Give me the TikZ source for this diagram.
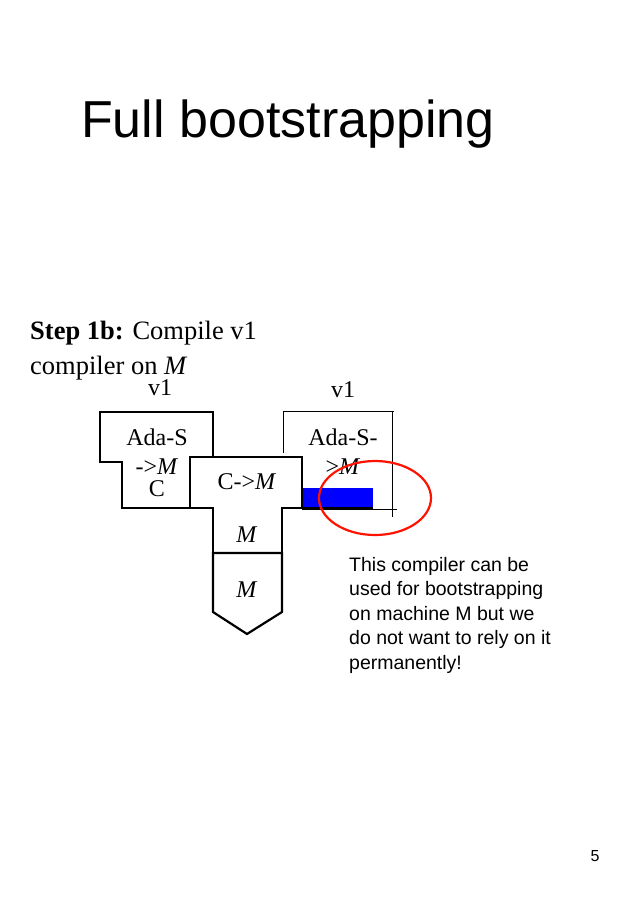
\documentclass[tikz,border=0pt]{standalone}
\usepackage{fontspec}
\setmainfont{Liberation Serif}
\newfontfamily\sans{Liberation Sans}
\begin{document}
\begin{tikzpicture}[x=1pt,y=-1pt,
  tee/.style={draw=black,line width=2.2pt,fill=white,line join=miter},
  lbl/.style={inner sep=0pt,font=\fontsize{24}{26}\selectfont},
  thin/.style={draw=black,line width=0.6pt}]
\useasboundingbox (0,0) rectangle (638,922);
\node[anchor=base west,inner sep=0pt,font=\sans\fontsize{52}{56}\selectfont] (title) at (81,137) {Full bootstrapping};
\node[anchor=base west,inner sep=0pt,align=left,font=\fontsize{26.5}{35}\selectfont] (step) at (30,374) {\textbf{Step 1b:} Compile v1\\compiler on \textit{M}};
% left T
\draw[tee] (100,412) -- (213,412) -- (213,462) -- (190,462) -- (190,508) -- (122,508) -- (122,462) -- (100,462) -- cycle;
% right thin T
\draw[thin] (283,453) -- (283,411) -- (394,411);
\draw[thin] (392,411) -- (392,517);
\fill[blue] (302,488) rectangle (373,508);
\draw[thin] (302,509) -- (397,509);
% middle T
\draw[tee] (190,457) -- (302,457) -- (302,508) -- (282,508) -- (282,553) -- (213,553) -- (213,508) -- (190,508) -- cycle;
\draw[tee] (213,553) -- (282,553) -- (282,612) -- (247,634) -- (213,612) -- cycle;
\draw[line width=2.2pt] (302,508) -- (373,508);
% texts
\node[lbl] (v1a) at (160,388) {v1};
\node[lbl] (v1b) at (343,390) {v1};
\node[lbl] (a1) at (157,437) {Ada-S};
\node[lbl] (a2) at (157,467) {->\textit{M}};
\node[lbl] (a3) at (157,489) {C};
\node[lbl] (c1) at (247,482) {C->\textit{M}};
\node[lbl] (m1) at (247,535) {\textit{M}};
\node[lbl] (m2) at (247,590) {\textit{M}};
\node[lbl] (b1) at (343,437) {Ada-S-};
\node[lbl] (b2) at (343,467) {>\textit{M}};
\draw[red!85!orange,line width=2.2pt] (375,498) ellipse [x radius=56,y radius=37];
\node[anchor=base west,inner sep=0pt,align=left,font=\sans\fontsize{19.5}{24.5}\selectfont] (note) at (349,669) {This compiler can be\\used for bootstrapping\\on machine M but we\\do not want to rely on it\\permanently!};
\node[anchor=base,inner sep=0pt,font=\sans\fontsize{16}{18}\selectfont] (pg) at (595,861) {5};
\end{tikzpicture}
\end{document}
